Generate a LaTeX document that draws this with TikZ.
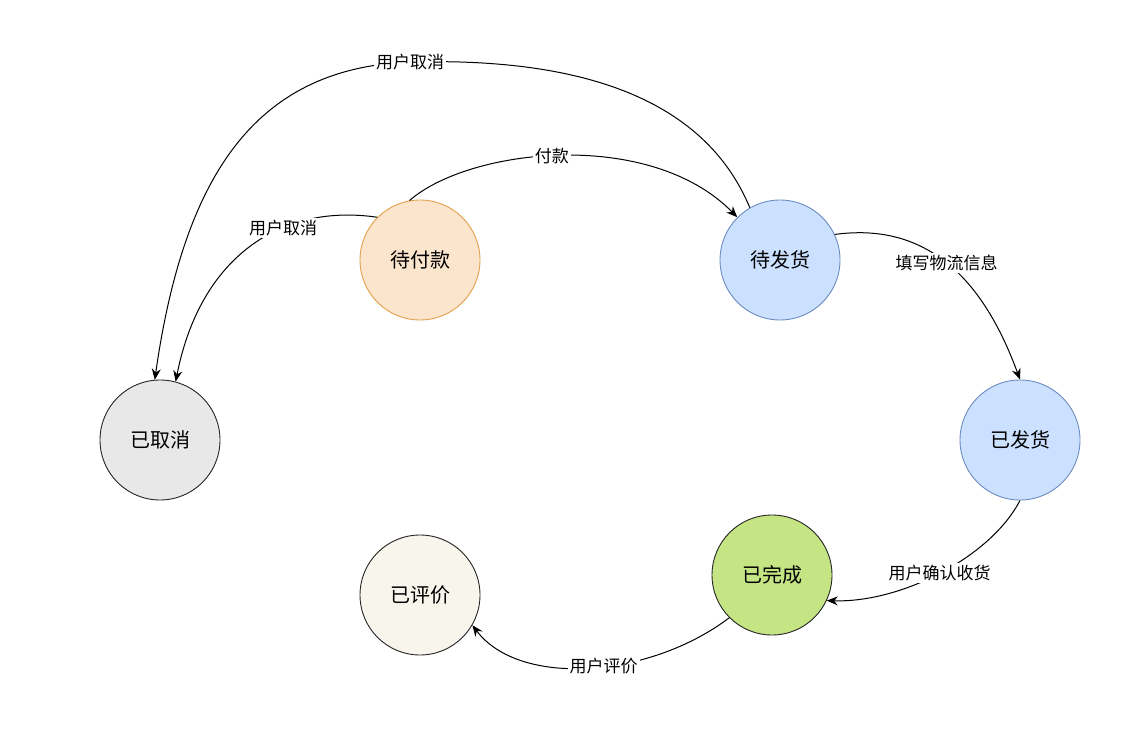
\documentclass[tikz,border=0pt]{standalone}
\usepackage{fontspec}
\setmainfont{Noto Sans CJK SC}
\usetikzlibrary{arrows.meta}
\begin{document}
\begin{tikzpicture}[x=1pt,y=1pt,
 st/.style={circle,minimum size=120pt,draw=black!85,line width=0.9pt,font=\fontsize{20}{20}\selectfont},
 ed/.style={-{Stealth[length=11pt,width=9pt]},line width=1pt},
 lb/.style={fill=white,inner sep=2pt,font=\fontsize{17}{17}\selectfont}]
\useasboundingbox (0,0) rectangle (1142,748);
\node[st,fill={rgb,255:red,252;green,229;blue,205},draw={rgb,255:red,226;green,160;blue,74}] (pay) at (420,488) {待付款};
\node[st,fill={rgb,255:red,204;green,224;blue,255},draw={rgb,255:red,108;green,142;blue,191}] (ship) at (780,488) {待发货};
\node[st,fill={rgb,255:red,232;green,232;blue,232}] (cancel) at (160,308) {已取消};
\node[st,fill={rgb,255:red,204;green,224;blue,255},draw={rgb,255:red,108;green,142;blue,191}] (sent) at (1020,308) {已发货};
\node[st,fill={rgb,255:red,197;green,229;blue,133}] (done) at (772,173) {已完成};
\node[st,fill={rgb,255:red,247;green,245;blue,236}] (rated) at (420,153) {已评价};
\draw[ed] (pay.100) .. controls (470,600) and (650,620) .. node[lb,pos=0.47]{付款} (ship.135);
\draw[ed] (pay.135) .. controls (280,545) and (200,490) .. node[lb,pos=0.35]{用户取消} (cancel.75);
\draw[ed] (ship.120) .. controls (700,660) and (560,690) .. (410,686) node[lb]{用户取消} .. controls (260,680) and (185,580) .. (cancel.95);
\draw[ed] (ship.25) .. controls (940,528) and (990,450) .. node[lb,pos=0.45]{填写物流信息} (sent.90);
\draw[ed] (sent.-90) .. controls (990,190) and (900,145) .. node[lb,pos=0.5]{用户确认收货} (done.-25);
\draw[ed] (done.-135) .. controls (650,70) and (520,60) .. node[lb,pos=0.45]{用户评价} (rated.-30);
\end{tikzpicture}
\end{document}
